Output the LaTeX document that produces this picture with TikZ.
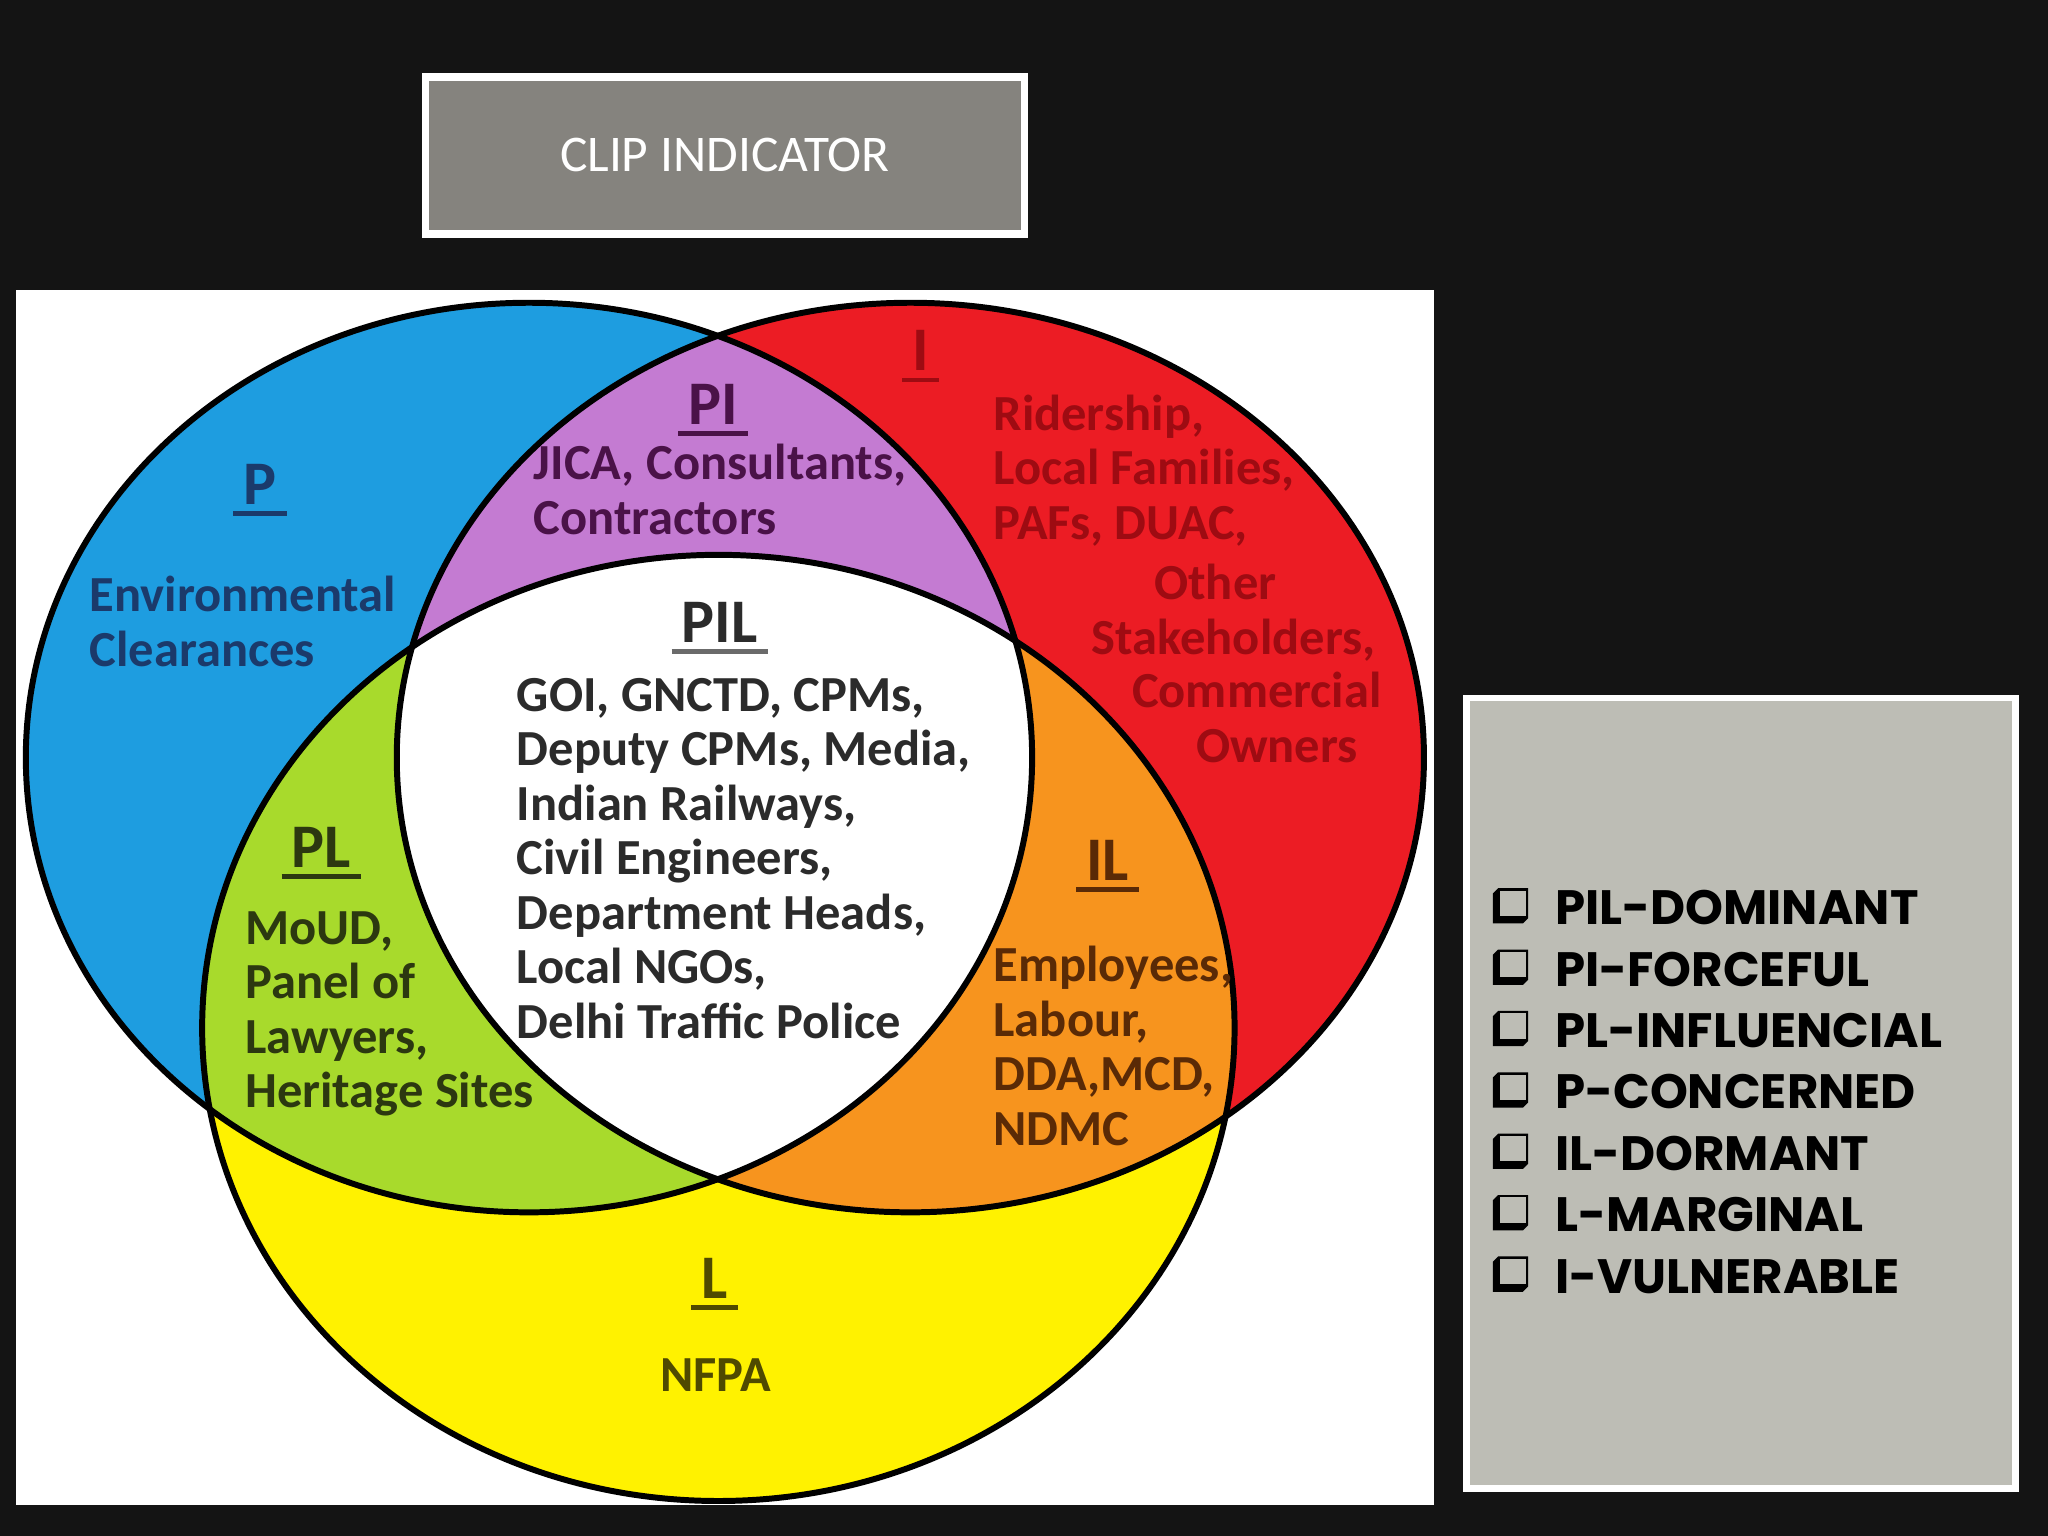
\documentclass[tikz,border=0pt]{standalone}
\usepackage{fontspec}
\setmainfont{Carlito}
\newfontfamily\legendfont{Poppins}
\definecolor{bgdark}{HTML}{141414}
\definecolor{pblue}{HTML}{1E9DE0}
\definecolor{ired}{HTML}{EC1C24}
\definecolor{lyellow}{HTML}{FFF200}
\definecolor{pipurple}{HTML}{C47BD2}
\definecolor{plgreen}{HTML}{A8DA2C}
\definecolor{ilorange}{HTML}{F7941E}
\definecolor{clipgray}{HTML}{85837E}
\definecolor{legendgray}{HTML}{BDBDB5}
\definecolor{ptext}{HTML}{1B3A6B}
\definecolor{itext}{HTML}{9E0B12}
\definecolor{pitext}{HTML}{4A1248}
\definecolor{pltext}{HTML}{2C3810}
\definecolor{iltext}{HTML}{5A2A06}
\definecolor{piltext}{HTML}{2B2B2B}
\definecolor{ltext}{HTML}{4F4A00}
\newcommand\Pell{(405,580) ellipse [x radius=3.85cm, y radius=3.48cm]}
\newcommand\Iell{(697,580) ellipse [x radius=3.93cm, y radius=3.48cm]}
\newcommand\Lell{(550,787) ellipse [x radius=3.95cm, y radius=3.62cm]}
\tikzset{
  lbl/.style={font=\fontsize{13.5}{16}\selectfont\bfseries, anchor=base, inner sep=0pt},
  body/.style={font=\fontsize{11}{11.87}\selectfont\bfseries, anchor=base west, align=left, inner sep=0pt},
  ul/.style={line width=1pt},
  outline/.style={draw=black, line width=1.3pt},
  legitem/.style={font=\legendfont\fontsize{10.5}{12}\selectfont\bfseries, anchor=base west, inner sep=0pt, text=black},
}
% #1 = left x of square, #2 = bottom y of square (y grows downward)
\newcommand\chkbox[2]{%
  \fill[black] (#1,#2-23) -- (#1+23,#2-23) -- (#1+23,#2) -- (#1+19,#2+4) -- (#1-4,#2+4) -- (#1-4,#2-19) -- cycle;
  \fill[legendgray] (#1+1.8,#2-21.2) rectangle (#1+21.2,#2-1.8);
}
\newcommand\ulabel[2]{%
  \draw[ul, #2] ([xshift=-2pt,yshift=-2pt]#1.base west) -- ([xshift=2pt,yshift=-2pt]#1.base east);
}
\begin{document}
\begin{tikzpicture}[x=0.01cm,y=-0.01cm]
\useasboundingbox (0,0) rectangle (1568,1176);
\fill[bgdark] (0,0) rectangle (1568,1176);
% title box
\node[draw=white, line width=1.6pt, fill=clipgray, minimum width=4.58cm, minimum height=1.2cm,
      text=white, font=\fontsize{11.2}{13}\selectfont] (clip) at (555,119) {CLIP INDICATOR};
% diagram panel
\fill[white] (12,222) rectangle (1098,1152);
% regions
\fill[pblue] \Pell;
\fill[ired] \Iell;
\fill[lyellow] \Lell;
\begin{scope}\clip \Pell; \fill[pipurple] \Iell; \end{scope}
\begin{scope}\clip \Pell; \fill[plgreen] \Lell; \end{scope}
\begin{scope}\clip \Iell; \fill[ilorange] \Lell; \end{scope}
\begin{scope}\clip \Pell; \clip \Iell; \fill[white] \Lell; \end{scope}
\draw[outline] \Pell;
\draw[outline] \Iell;
\draw[outline] \Lell;
% labels
\node[lbl, text=ptext] (lP) at (199,386) {P};
\ulabel{lP}{ptext}
\node[lbl, text=pitext] (lPI) at (546,325) {PI};
\ulabel{lPI}{pitext}
\node[lbl, text=itext] (lI) at (705,284) {I};
\ulabel{lI}{itext}
\node[lbl, text=piltext] (lPIL) at (551,492) {PIL};
\ulabel{lPIL}{piltext!70}
\node[lbl, text=pltext] (lPL) at (246,664) {PL};
\ulabel{lPL}{pltext}
\node[lbl, text=iltext] (lIL) at (848,674) {IL};
\ulabel{lIL}{iltext}
\node[lbl, text=ltext] (lL) at (547,994) {L};
\ulabel{lL}{ltext}
% texts (anchor = baseline of the last line)
\node[body, text=ptext] (tP) at (68,510) {Environmental\\Clearances};
\node[body, text=pitext] (tPI) at (408,409) {JICA, Consultants,\\Contractors};
\node[body, text=itext] (tI1) at (760,413) {Ridership,\\Local Families,\\PAFs, DUAC,};
\node[body, text=itext] (tI2) at (883,459) {Other};
\node[body, text=itext] (tI3) at (835,501) {Stakeholders,};
\node[body, text=itext] (tI4) at (866,542) {Commercial};
\node[body, text=itext] (tI5) at (915,584) {Owners};
\node[body, text=piltext] (tPIL) at (395,795) {GOI, GNCTD, CPMs,\\Deputy CPMs, Media,\\Indian Railways,\\Civil Engineers,\\Department Heads,\\Local NGOs,\\Delhi Traffic Police};
\node[body, text=pltext] (tPL) at (187,848) {MoUD,\\Panel of\\Lawyers,\\Heritage Sites};
\node[body, text=iltext] (tIL) at (760,877) {Employees,\\Labour,\\DDA,MCD,\\NDMC};
\node[body, text=ltext, anchor=base] (tL) at (548,1065) {NFPA};
% legend
\node[draw=white, line width=1.4pt, fill=legendgray, minimum width=4.2cm, minimum height=6.05cm] (leg) at (1333,837) {};
\chkbox{1147}{703}
\chkbox{1147}{750}
\chkbox{1147}{797}
\chkbox{1147}{844}
\chkbox{1147}{891}
\chkbox{1147}{938}
\chkbox{1147}{985}
\node[legitem] (g1) at (1190,708) {PIL-DOMINANT};
\node[legitem] (g2) at (1190,755) {PI-FORCEFUL};
\node[legitem] (g3) at (1190,802) {PL-INFLUENCIAL};
\node[legitem] (g4) at (1190,849) {P-CONCERNED};
\node[legitem] (g5) at (1190,896) {IL-DORMANT};
\node[legitem] (g6) at (1190,943) {L-MARGINAL};
\node[legitem] (g7) at (1190,990) {I-VULNERABLE};
\end{tikzpicture}
\end{document}
